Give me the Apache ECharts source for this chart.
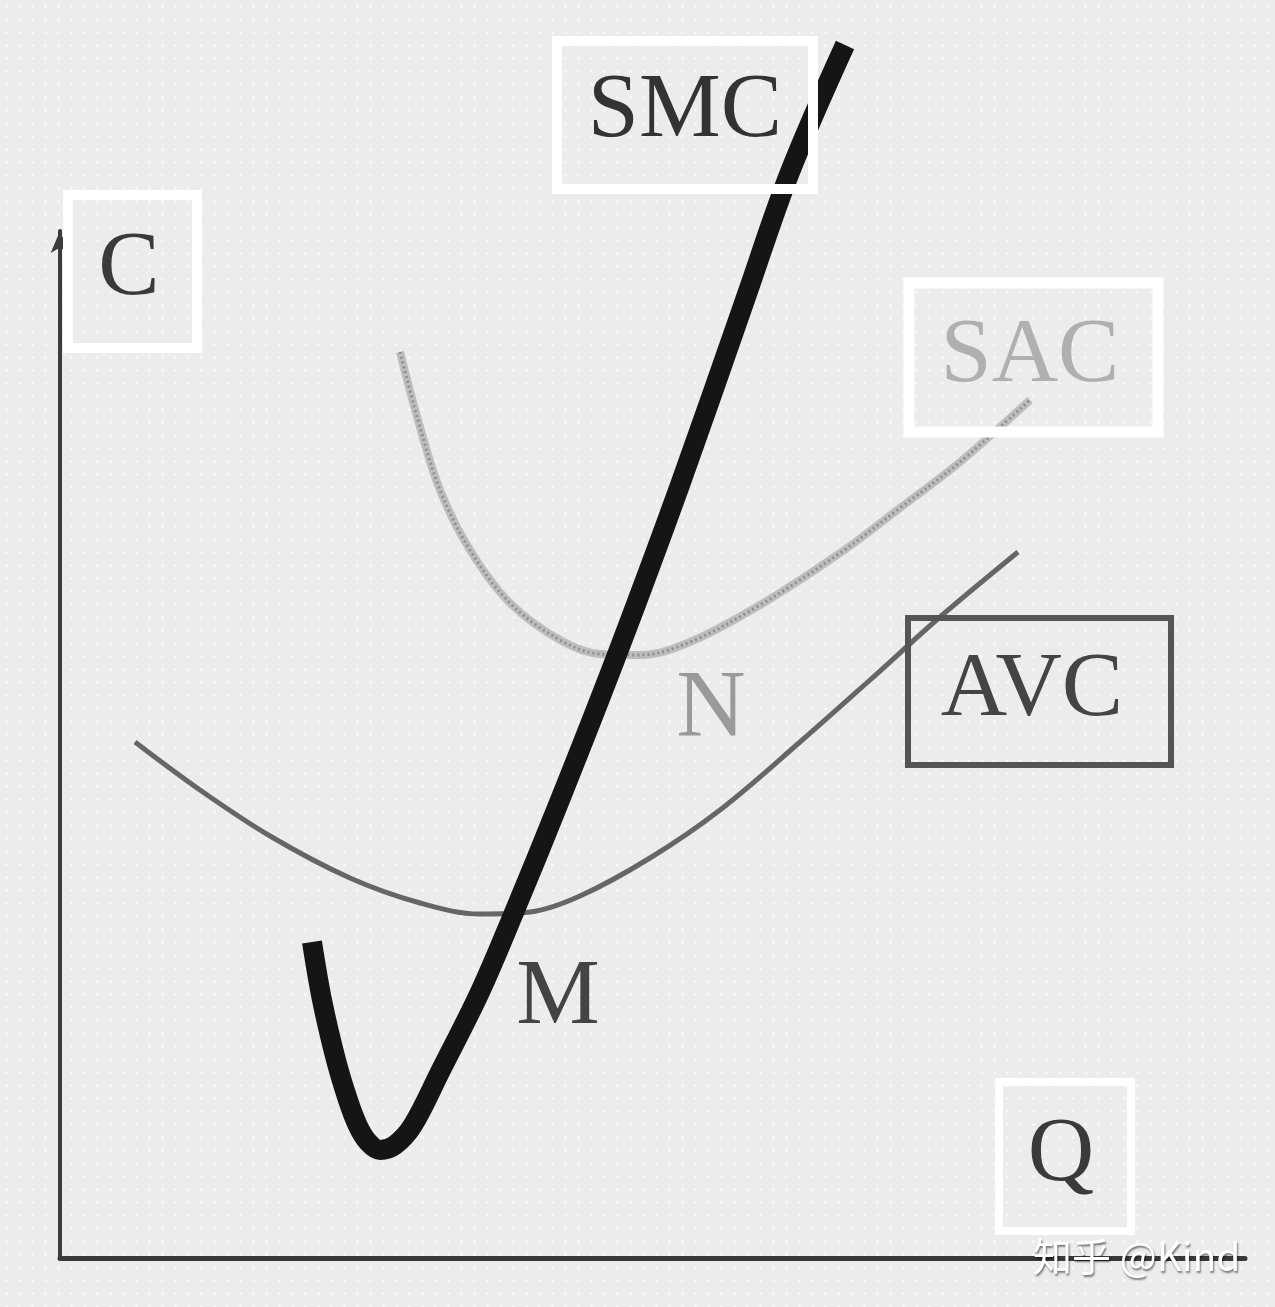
<!DOCTYPE html>
<html>
<head>
<meta charset="utf-8">
<script src="https://cdn.jsdelivr.net/npm/echarts@6/dist/echarts.min.js"></script>
<style>
  html, body { margin: 0; padding: 0; }
  #chart {
    width: 1275px;
    height: 1307px;
    background-color: #ececec;
    background-image: radial-gradient(circle, #f7f7f7 1.2px, transparent 1.8px);
    background-size: 13px 13px;
  }
</style>
</head>
<body>
<div id="chart"></div>
<script>
// curves (Q along x, C along y)
const smcQ = [25.2, 26.2, 27.6, 28.8, 29.8, 30.8, 32.0, 33.5, 35.3, 38.0, 42.0, 45.3, 50.0, 55.8, 62.0, 68.5, 73.0, 78.5];
const smcC = [31.6, 25.8, 19.8, 15.8, 13.2, 11.6, 10.8, 11.3, 13.3, 18.6, 26.6, 34.3, 45.8, 60.6, 77.3, 95.8, 108.6, 121.3];

const avcQ = [7.5, 14, 21, 29, 36, 42, 47, 52, 59, 66, 74, 81, 88, 95.8];
const avcC = [51.6, 46.8, 42.2, 38, 35.5, 34.4, 34.6, 36.2, 40, 44.8, 51.6, 57.8, 64.1, 70.6];

const sacQ = [34, 35.8, 38, 41, 45, 50, 54, 58, 63, 70, 78, 84, 90, 97];
const sacC = [90.6, 83.8, 76.8, 70.8, 65.5, 61.8, 60.4, 60.3, 61.6, 65.3, 70.5, 75, 79.6, 85.8];

const pairs = (xs, ys) => xs.map((x, i) => [x, ys[i]]);

const chart = echarts.init(document.getElementById("chart"), null, { renderer: "canvas" });

const serif = "'Liberation Serif', 'DejaVu Serif', serif";

// label box helper (white or dark frame)
function box(x1, y1, x2, y2, stroke, lw) {
  return {
    type: "rect",
    z: 100,
    shape: { x: x1, y: y1, width: x2 - x1, height: y2 - y1 },
    style: { fill: "none", stroke: stroke, lineWidth: lw },
  };
}
function label(txt, x, y, size, color) {
  return {
    type: "text",
    z: 101,
    x: x,
    y: y,
    style: {
      text: txt,
      font: size + "px " + serif,
      fill: color,
      align: "center",
      verticalAlign: "middle",
    },
  };
}

const curve = {
  type: "line",
  clip: false,
  smooth: 0.35,
  showSymbol: false,
};

const option = {
  backgroundColor: "transparent",
  animation: false,
  grid: { left: 60, right: 30, top: 231, bottom: 49 },
  xAxis: {
    type: "value",
    min: 0,
    max: 118.5,
    axisLine: { show: true, lineStyle: { color: "#383838", width: 5 } },
    axisTick: { show: false },
    axisLabel: { show: false },
    splitLine: { show: false },
  },
  yAxis: {
    type: "value",
    min: 0,
    max: 102.7,
    axisLine: {
      show: true,
      symbol: ["none", "arrow"],
      symbolSize: [14, 22],
      lineStyle: { color: "#3c3c3c", width: 4 },
    },
    axisTick: { show: false },
    axisLabel: { show: false },
    splitLine: { show: false },
  },
  series: [
    Object.assign({}, curve, {
      name: "SAC",
      z: 2,
      data: pairs(sacQ, sacC),
      lineStyle: { color: "#bdbdbd", width: 8 },
    }),
    Object.assign({}, curve, {
      name: "SAC",
      z: 3,
      data: pairs(sacQ, sacC),
      lineStyle: { color: "#8e8e8e", width: 3, type: [2, 3] },
    }),
    Object.assign({}, curve, {
      name: "AVC",
      z: 4,
      data: pairs(avcQ, avcC),
      lineStyle: { color: "#666666", width: 5 },
    }),
    Object.assign({}, curve, {
      name: "SMC",
      z: 5,
      data: pairs(smcQ, smcC),
      lineStyle: { color: "#151515", width: 20, cap: "butt", join: "round" },
    }),
  ],
  graphic: [
    box(557, 41, 813, 189, "#ffffff", 10),
    label("SMC", 685, 112, 92, "#333333"),
    box(68, 195, 197, 348, "#ffffff", 10),
    label("C", 129, 270, 92, "#3a3a3a"),
    box(909, 283, 1158, 432, "#ffffff", 11),
    label("SAC", 1030, 357, 92, "#b0b0b0"),
    box(908, 618, 1171, 765, "#555555", 6),
    label("AVC", 1032, 691, 92, "#444444"),
    box(999, 1082, 1131, 1231, "#ffffff", 8),
    label("Q", 1061, 1156, 92, "#3a3a3a"),
    label("N", 711, 711, 96, "#9a9a9a"),
    label("M", 558, 998, 94, "#444444"),
    {
      type: "text",
      z: 110,
      x: 1033,
      y: 1256,
      style: {
        text: "知乎 @Kind",
        font: "39px 'Noto Sans CJK SC', sans-serif",
        fill: "#ffffff",
        verticalAlign: "middle",
        textShadowColor: "rgba(0,0,0,0.5)",
        textShadowBlur: 2,
        textShadowOffsetX: 1,
        textShadowOffsetY: 2,
      },
    },
  ],
};

chart.setOption(option);
</script>
</body>
</html>
